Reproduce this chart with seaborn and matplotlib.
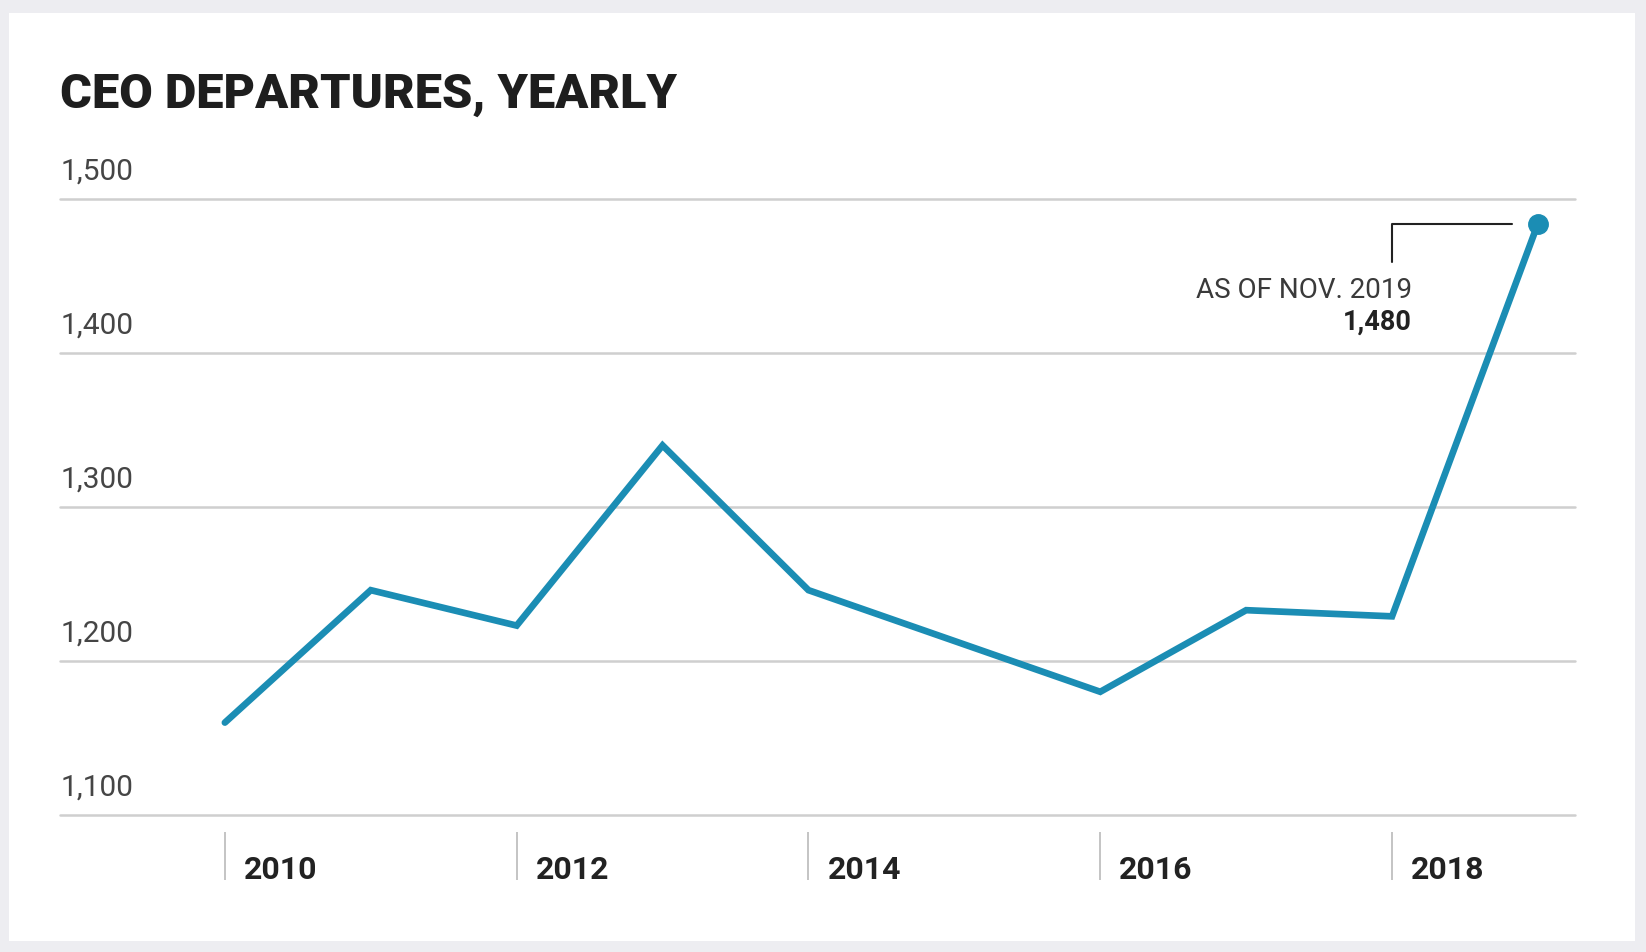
import numpy as np
import pandas as pd
import matplotlib
matplotlib.use("Agg")
import matplotlib.pyplot as plt
from matplotlib.patches import Rectangle
import seaborn as sns

# datos
years = [2010, 2011, 2012, 2013, 2014, 2015, 2016, 2017, 2018, 2019]
departures = [1160, 1246, 1223, 1340, 1246, 1213, 1180, 1233, 1229, 1484]
y_ticks = [1100, 1200, 1300, 1400, 1500]
x_ticks = [2010, 2012, 2014, 2016, 2018]
title = "CEO DEPARTURES, YEARLY"
note_line = "AS OF NOV. 2019"
note_value = "1,480"

line_color = "#1b8db4"
bg_color = "#ededf1"

sns.set_style("white")
plt.rcParams['font.family'] = ['Roboto', 'DejaVu Sans']

df = pd.DataFrame({"year": years, "departures": departures})

fig = plt.figure(figsize=(16.46, 9.52), dpi=100)
fig.patch.set_facecolor(bg_color)
# panel blanco
fig.patches.append(Rectangle((9 / 1646, 1 - 941 / 952), (1635 - 9) / 1646, (941 - 13) / 952,
                             transform=fig.transFigure, facecolor="white", edgecolor="none",
                             zorder=-10))

ax = fig.add_axes([60 / 1646, 1 - 815 / 952, (1575 - 60) / 1646, (815 - 199) / 952])
ax.set_facecolor("none")

sns.lineplot(data=df, x="year", y="departures", ax=ax, color=line_color, linewidth=4.8,
             solid_joinstyle="miter", solid_capstyle="round", zorder=3)
ax.plot(years[-1], departures[-1], "o", color=line_color, markersize=14, zorder=4, clip_on=False)

ax.set_xlim(2008.87, 2019.254)
ax.set_ylim(1100, 1500)
ax.set_yticks(y_ticks)
ax.set_xticks(x_ticks)
ax.set_yticklabels([])
ax.set_xticklabels([])
ax.tick_params(axis="y", length=0, left=False)
ax.tick_params(axis="x", bottom=True, direction="out", length=34.5, width=1.1,
               color="#b4b4b4")
ax.spines["bottom"].set_position(("outward", 12.2))
for s in ax.spines.values():
    s.set_visible(False)
ax.set_xlabel("")
ax.set_ylabel("")

ax.yaxis.grid(True, color="#cfcfcf", linewidth=1.8)
ax.xaxis.grid(False)
for gl in ax.yaxis.get_gridlines():
    gl.set_clip_on(False)

# etiquetas del eje y sobre las lineas
for v in y_ticks:
    ax.annotate(f"{v:,}", xy=(0, v), xycoords=ax.get_yaxis_transform(),
                xytext=(1, 19), textcoords="offset pixels", ha="left", va="baseline",
                fontsize=21.5, fontweight="normal", color="#454545")

# etiquetas del eje x a la derecha de cada marca
for yr in x_ticks:
    ax.annotate(str(yr), xy=(yr, 0), xycoords=ax.get_xaxis_transform(),
                xytext=(19, -64), textcoords="offset pixels", ha="left", va="baseline",
                fontsize=23, fontweight="bold", color="#222222")

# nota del ultimo punto
xe, ye = years[-1], departures[-1]
ax.plot([xe - 0.18, xe - 1.0, xe - 1.0], [ye, ye, ye - 25], color="#222222", linewidth=1.5,
        zorder=2)
ax.annotate(note_line, xy=(xe, ye), xytext=(-126, -74), textcoords="offset pixels",
            ha="right", va="baseline", fontsize=20, fontweight="normal", color="#3a3a3a")
ax.annotate(note_value, xy=(xe, ye), xytext=(-126, -106), textcoords="offset pixels",
            ha="right", va="baseline", fontsize=19.5, fontweight="bold", color="#222222")

fig.text(60 / 1646, 1 - 108 / 952, title, ha="left", va="baseline",
         fontsize=35, fontweight="black", color="#1e1e1e")

fig.savefig("out.png", dpi=100, facecolor=bg_color)
